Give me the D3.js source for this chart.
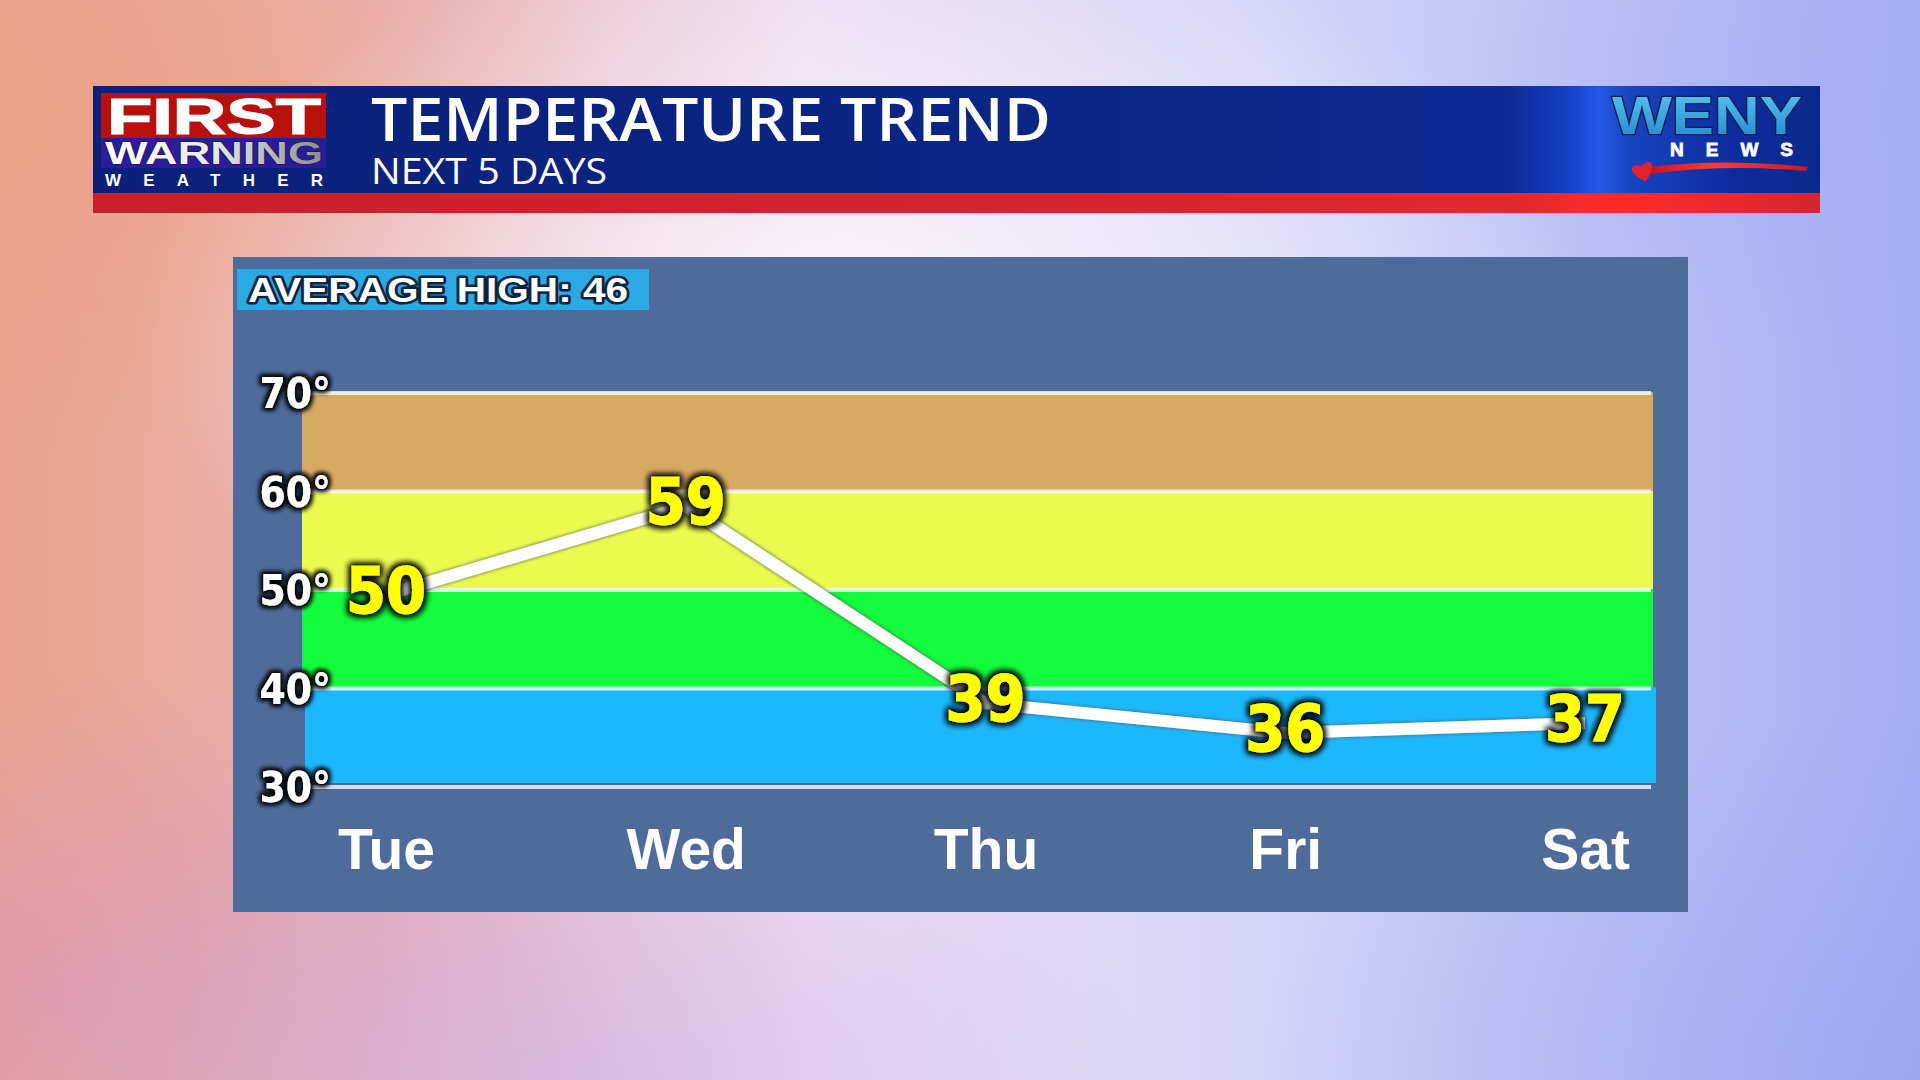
<!DOCTYPE html>
<html><head><meta charset="utf-8">
<script src="https://cdn.jsdelivr.net/npm/d3@7"></script>
<style>html,body{margin:0;padding:0;overflow:hidden;background:#ddd}svg{display:block}</style>
</head><body><svg id="c" width="1920" height="1080"></svg>
<script>
// ---- data ----
const days = ["Tue","Wed","Thu","Fri","Sat"];
const highs = [50,59,39,36,37];
const yTicks = [30,40,50,60,70];
const bandLows = [30,40,50,60];
const bandHighs = [40,50,60,70];
const bandColors = ["#1cb8fe","#12fd3b","#ebfb4e","#d7a963"];
const averageHigh = 46;
const titleText = "TEMPERATURE TREND";
const subtitleText = "NEXT 5 DAYS";

const svg = d3.select("#c");
const defs = svg.append("defs");

function lin(id, stops, x2=1, y2=0){
  const g = defs.append("linearGradient").attr("id",id).attr("x1",0).attr("y1",0).attr("x2",x2).attr("y2",y2);
  stops.forEach(s=>g.append("stop").attr("offset",s[0]).attr("stop-color",s[1]).attr("stop-opacity",s[2]===undefined?1:s[2]));
}
function rad(id, cx, cy, r, color, op){
  const g = defs.append("radialGradient").attr("id",id).attr("cx",cx).attr("cy",cy).attr("r",r);
  g.append("stop").attr("offset",0).attr("stop-color",color).attr("stop-opacity",op);
  g.append("stop").attr("offset",1).attr("stop-color",color).attr("stop-opacity",0);
}
lin("bgBase",[[0,"#e9a38c"],[0.2,"#e9b2b4"],[0.42,"#ecdcf0"],[0.66,"#d4d5f8"],[1,"#a3adf2"]]);
rad("rWhite","45%","30%","38%","#fcf7fc",0.9);
rad("rRose","3%","92%","30%","#d996b8",0.7);
rad("rLav","30%","100%","30%","#cdb3ec",0.6);
rad("rPeach","0%","10%","32%","#eca184",0.8);
rad("rBlue","100%","100%","35%","#98a3ef",0.6);
rad("rBlue2","100%","10%","25%","#a3aef3",0.5);
lin("hdrBlue",[[0,"#0c2079"],[0.5,"#0b2584"],[0.82,"#0b2a94"],[0.855,"#1540c8"],[0.872,"#2458e6"],[0.89,"#1844c0"],[0.95,"#0c2c9c"],[1,"#0a2a90"]]);
lin("hdrRed",[[0,"#c9202b"],[0.5,"#cf252f"],[0.83,"#e02a30"],[0.88,"#ff2b2b"],[0.93,"#ee2a30"],[1,"#d2262e"]]);
lin("silver",[[0,"#ffffff"],[0.5,"#e8e8e8"],[1,"#8c8c8c"]]);
lin("wenyBlue",[[0,"#5ccaf6"],[1,"#1d84cc"]],0,1);
lin("swoosh",[[0,"#c81020"],[0.4,"#ff3a3a"],[1,"#d01828"]]);

function glowFilter(id, r, sd, op){
  const f = defs.append("filter").attr("id",id).attr("x","-30%").attr("y","-30%").attr("width","160%").attr("height","160%");
  f.append("feMorphology").attr("in","SourceAlpha").attr("operator","dilate").attr("radius",r).attr("result","d");
  f.append("feGaussianBlur").attr("in","d").attr("stdDeviation",sd).attr("result","b");
  f.append("feFlood").attr("flood-color","#000").attr("flood-opacity",op);
  f.append("feComposite").attr("in2","b").attr("operator","in").attr("result","s");
  const mm = f.append("feMerge"); mm.append("feMergeNode").attr("in","s"); mm.append("feMergeNode").attr("in","s"); mm.append("feMergeNode").attr("in","SourceGraphic");
}
glowFilter("glow",2.2,3,0.9);
glowFilter("glowS",1.8,2.5,0.9);

const lsh = defs.append("filter").attr("id","lsh").attr("x","-10%").attr("y","-30%").attr("width","120%").attr("height","160%");
lsh.append("feMorphology").attr("in","SourceAlpha").attr("operator","dilate").attr("radius",1).attr("result","d");
lsh.append("feGaussianBlur").attr("in","d").attr("stdDeviation",1.5).attr("result","b");
lsh.append("feFlood").attr("flood-color","#555").attr("flood-opacity",0.6);
lsh.append("feComposite").attr("in2","b").attr("operator","in").attr("result","s");
let m = lsh.append("feMerge"); m.append("feMergeNode").attr("in","s"); m.append("feMergeNode").attr("in","SourceGraphic");

// ---- background ----
svg.append("rect").attr("width",1920).attr("height",1080).attr("fill","url(#bgBase)");
["rPeach","rWhite","rRose","rLav","rBlue","rBlue2"].forEach(id=>svg.append("rect").attr("width",1920).attr("height",1080).attr("fill",`url(#${id})`));

// ---- header ----
const hdr = svg.append("g");
hdr.append("rect").attr("x",93).attr("y",86).attr("width",1727).attr("height",107).attr("fill","url(#hdrBlue)");
hdr.append("rect").attr("x",93).attr("y",193).attr("width",1727).attr("height",20).attr("fill","url(#hdrRed)");
// First Warning logo
hdr.append("rect").attr("x",101).attr("y",93).attr("width",225).attr("height",45).attr("fill","#b8100b");
hdr.append("rect").attr("x",101).attr("y",138).attr("width",225).attr("height",30).attr("fill","#2a1c9c");
hdr.append("text").attr("x",107).attr("y",134).attr("textLength",214).attr("lengthAdjust","spacingAndGlyphs")
  .style("font","900 50px 'Liberation Sans', Arial, sans-serif").attr("fill","#fff").attr("stroke","#fff").attr("stroke-width",1.2).text("FIRST");
hdr.append("text").attr("x",105).attr("y",164).attr("textLength",218).attr("lengthAdjust","spacingAndGlyphs")
  .style("font","900 31px 'Liberation Sans', Arial, sans-serif").attr("fill","url(#silver)").attr("stroke","#1a1040").attr("stroke-width",1).attr("paint-order","stroke").text("WARNING");
hdr.append("text").attr("x",105).attr("y",186).attr("textLength",218).attr("lengthAdjust","spacing")
  .style("font","700 17px 'Liberation Sans', Arial, sans-serif").attr("fill","#fff").text("WEATHER");
// title
hdr.append("text").attr("x",371).attr("y",141).attr("textLength",680).attr("lengthAdjust","spacingAndGlyphs")
  .style("font","600 60px 'Open Sans', 'Noto Sans', sans-serif").attr("fill","#fff").text(titleText);
hdr.append("text").attr("x",371).attr("y",184).attr("textLength",236).attr("lengthAdjust","spacingAndGlyphs")
  .style("font","400 37px 'Open Sans', 'Noto Sans', sans-serif").attr("fill","#fff").text(subtitleText);
// WENY logo
hdr.append("text").attr("x",1612).attr("y",134).attr("textLength",190).attr("lengthAdjust","spacingAndGlyphs")
  .style("font","900 54px 'Liberation Sans', Arial, sans-serif").attr("fill","url(#wenyBlue)").attr("stroke","#0a2050").attr("stroke-width",2.5).attr("paint-order","stroke").text("WENY");
hdr.append("text").attr("x",1670).attr("y",156).attr("textLength",123).attr("lengthAdjust","spacing")
  .style("font","900 19px 'Liberation Sans', Arial, sans-serif").attr("fill","#fff").attr("stroke","#fff").attr("stroke-width",0.8).text("NEWS");
hdr.append("path").attr("d","M1648,167 Q1725,158 1808,167 L1806,171 Q1725,164 1650,174 Z").attr("fill","url(#swoosh)");
hdr.append("path").attr("d","M0,10 C-14,0 -12,-12 0,-5 C12,-12 14,0 0,10 Z").attr("transform","translate(1643,171) rotate(-15) scale(1.05)").attr("fill","#e8202a");

// ---- chart panel ----
svg.append("rect").attr("x",233).attr("y",257).attr("width",1455).attr("height",655).attr("fill","#4f6b9b");
svg.append("rect").attr("x",237).attr("y",269).attr("width",412).attr("height",41).attr("fill","#2aa9e3");
svg.append("text").attr("x",248).attr("y",302).attr("textLength",380).attr("lengthAdjust","spacingAndGlyphs")
  .style("font","900 35px 'Liberation Sans', Arial, sans-serif").attr("fill","#fff")
  .attr("stroke","#0b2440").attr("stroke-width",5).attr("stroke-linejoin","round").attr("paint-order","stroke")
  .text(`AVERAGE HIGH: ${averageHigh}`);

const x = d3.scalePoint().domain(days).range([386,1585]);
const y = d3.scaleLinear().domain([30,70]).range([786,392]);
const plotL = 302, plotR = 1653;

const plot = svg.append("g");
plot.selectAll("rect.band").data(bandLows).join("rect").attr("class","band")
  .attr("x",(d,i)=>i===0?plotL+3:plotL)
  .attr("width",plotR-plotL)
  .attr("y",(d,i)=>y(bandHighs[i]))
  .attr("height",(d,i)=>y(bandLows[i])-y(bandHighs[i])-(i===0?3:0))
  .attr("fill",(d,i)=>bandColors[i]);
plot.selectAll("line.grid").data(yTicks).join("line").attr("class","grid")
  .attr("x1",plotL).attr("x2",plotR-2).attr("y1",d=>y(d)+1).attr("y2",d=>y(d)+1)
  .attr("stroke","#fff").attr("stroke-opacity",0.78).attr("stroke-width",4);

const yAxis = svg.append("g").attr("transform","translate(331,0)")
  .call(d3.axisLeft(y).tickValues(yTicks).tickFormat(d=>d+"°").tickSize(0).tickPadding(0));
yAxis.select(".domain").remove();
yAxis.selectAll("text").attr("dy","0.37em")
  .style("font","bold 42px 'DejaVu Sans Condensed', 'DejaVu Sans', sans-serif").attr("fill","#fff").attr("filter","url(#glowS)");

const xAxis = svg.append("g").attr("transform","translate(0,869)")
  .call(d3.axisBottom(x).tickSize(0).tickPadding(0));
xAxis.select(".domain").remove();
xAxis.selectAll("text").attr("y",0).attr("dy",0)
  .style("font","bold 57px 'Liberation Sans', Arial, sans-serif").attr("fill","#fff");

const line = d3.line().x((d,i)=>x(days[i])).y(d=>y(d));
svg.append("path").datum(highs).attr("d",line).attr("transform","translate(0,6)")
  .attr("fill","none").attr("stroke","#fff").attr("stroke-width",12).attr("stroke-linejoin","round").attr("filter","url(#lsh)");

svg.selectAll("text.val").data(highs).join("text").attr("class","val")
  .attr("x",(d,i)=>x(days[i])).attr("y",d=>y(d)+24).attr("text-anchor","middle")
  .style("font","bold 64px 'DejaVu Sans Condensed', 'DejaVu Sans', sans-serif")
  .attr("fill","#ffff00").attr("stroke","#ffff00").attr("stroke-width",1).attr("filter","url(#glow)").text(d=>d);
</script>
</body></html>
